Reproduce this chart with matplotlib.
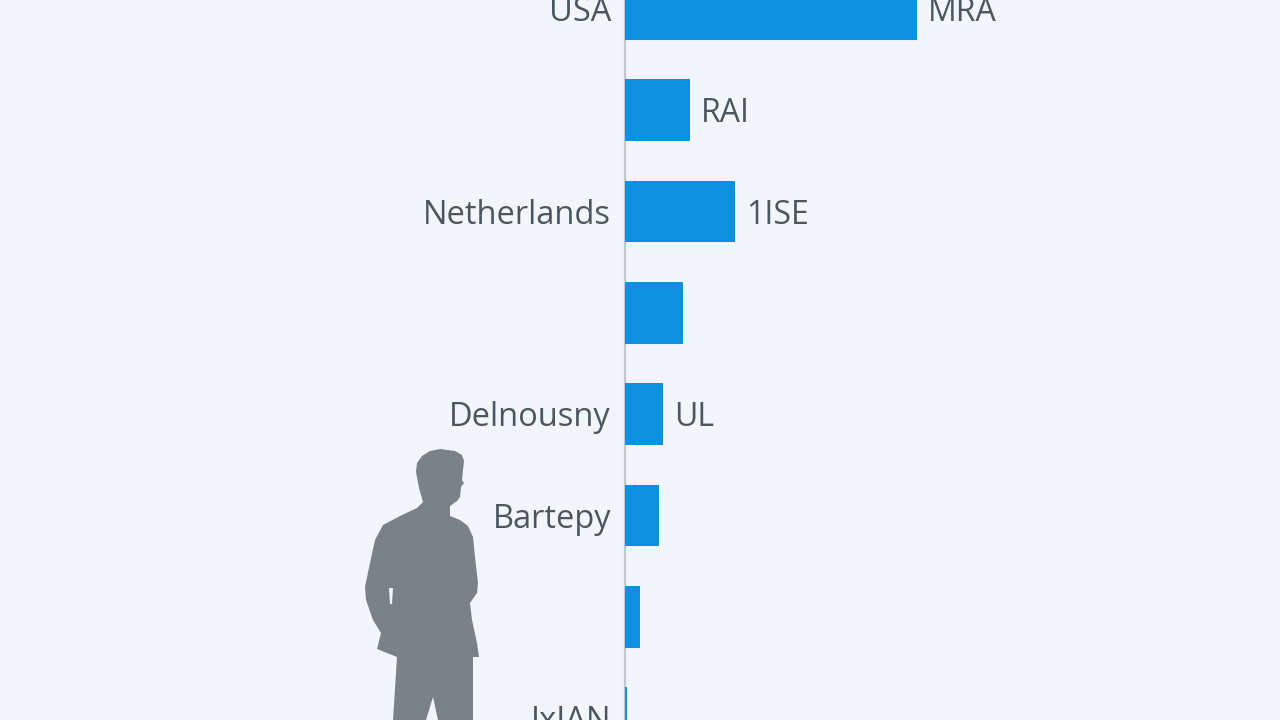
"""
Horizontal bars with a person silhouette standing next to the labels
"""
import matplotlib
matplotlib.use('Agg')
import matplotlib.pyplot as plt
from matplotlib.patches import Polygon
from matplotlib.transforms import Affine2D

countries = ['USA', '', 'Netherlands', '', 'Delnousny', 'Bartepy', '', 'IxIAN']
values = [292, 65, 110, 58, 38, 34, 15, 1.5]
value_labels = ['MRA', 'RAI', '1ISE', '', 'UL', '', '', '']

# silhouette outline, in pixels
person_x = [416, 417, 422, 430, 440, 455, 462, 464, 463, 462, 464, 461, 460, 457, 450, 450,
            460, 468, 473, 475, 478, 477, 470, 472, 477, 479, 473, 473, 473, 438, 433, 426,
            393, 397, 377, 381, 373, 366, 365, 370, 375, 383, 400, 417, 423, 419]
person_y = [472, 463, 456, 451, 449, 451, 455, 461, 470, 480, 483, 487, 497, 501, 506, 516,
            520, 526, 537, 557, 583, 593, 603, 620, 643, 657, 657, 683, 720, 720, 697, 720,
            720, 657, 649, 633, 620, 600, 587, 563, 540, 525, 516, 508, 502, 488]
gap_x = [389, 393, 392, 390]
gap_y = [588, 588, 604, 604]

bg = '#f2f6fb'
bar_color = '#0d90e0'
text_color = '#4b5660'

plt.rcParams['font.family'] = ['Open Sans', 'DejaVu Sans']

fig = plt.figure(figsize=(12.8, 7.2), dpi=100, facecolor=bg)
ax = fig.add_axes([0, 0, 1, 1], facecolor=bg)

# one x unit is one pixel, bars sit 101.3 px apart
y_pos = list(range(len(values)))
ax.barh(y_pos, values, height=0.61, color=bar_color, zorder=3)
ax.set_xlim(-625, 655)
ax.set_ylim((720 - 9) / 101.3, -9 / 101.3)
ax.axvline(-0.5, color='#c0c7ce', lw=1.6, zorder=2)

for y, name, val, lab in zip(y_pos, countries, values, value_labels):
    if name:
        ax.text(-14, y + 0.035, name, ha='right', va='center', fontsize=23.5, color=text_color)
    if lab:
        ax.text(val + 11, y + 0.035, lab, ha='left', va='center', fontsize=23, color=text_color)

ax.axis('off')

# pixels from the top left corner
to_fig = Affine2D().scale(1, -1).translate(0, 720)
fig.add_artist(Polygon(list(zip(person_x, person_y)), closed=True, facecolor='#7a8287',
                       edgecolor='none', transform=to_fig, zorder=4))
fig.add_artist(Polygon(list(zip(gap_x, gap_y)), closed=True, facecolor=bg,
                       edgecolor='none', transform=to_fig, zorder=5))

fig.savefig('out.png', dpi=100, facecolor=bg)
